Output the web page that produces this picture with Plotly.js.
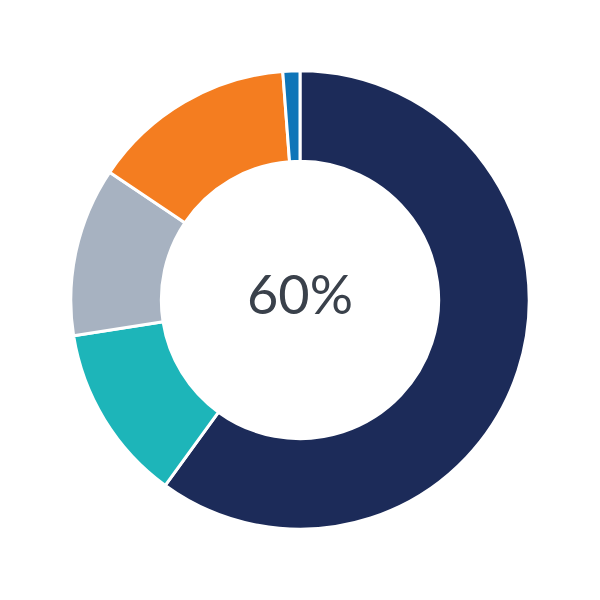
<!DOCTYPE html>
<html>
<head>
<meta charset="utf-8">
<script src="https://cdn.plot.ly/plotly-3.0.1.min.js"></script>
<style>html,body{margin:0;padding:0;background:#fff;}#chart{width:600px;height:600px;}</style>
</head>
<body>
<div id="chart"></div>
<script>
const labels = ["A", "B", "C", "D", "E"];
const values = [60, 12.5, 11.9, 14.4, 1.2];
const colors = ["#1c2b59", "#1db5b9", "#a7b2c1", "#f47d20", "#0f75b8"];
const centerLabel = "60%";

Plotly.newPlot("chart", [{
  type: "pie",
  labels: labels,
  values: values,
  sort: false,
  direction: "clockwise",
  rotation: 0,
  hole: 0.605,
  textinfo: "none",
  hoverinfo: "none",
  marker: {colors: colors, line: {color: "#ffffff", width: 3}},
  domain: {x: [0.118, 0.882], y: [0.118, 0.882]}
}], {
  width: 600, height: 600,
  margin: {l: 0, r: 0, t: 0, b: 0},
  paper_bgcolor: "#ffffff",
  showlegend: false,
  annotations: [{
    text: centerLabel, x: 0.5, y: 0.511, xref: "paper", yref: "paper",
    xanchor: "center", yanchor: "middle", showarrow: false,
    font: {family: "Lato", size: 54, color: "#3a414b", weight: 400}
  }]
}, {staticPlot: true});
</script>
</body>
</html>
